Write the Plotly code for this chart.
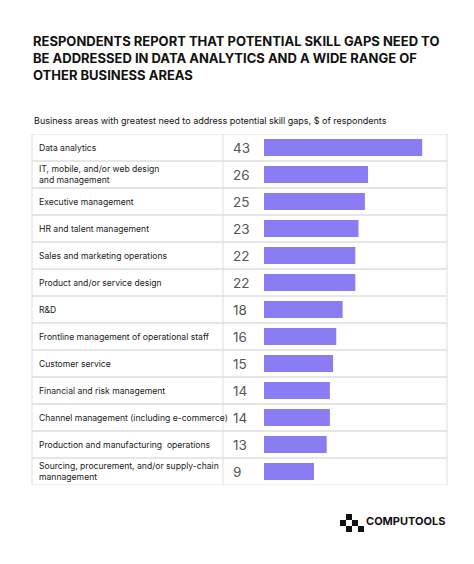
import plotly.graph_objects as go

# Business areas and share of respondents (%)
areas = [
    "Data analytics",
    "IT, mobile, and/or web design<br>and management",
    "Executive management",
    "HR and talent management",
    "Sales and marketing operations",
    "Product and/or service design",
    "R&D",
    "Frontline management of operational staff",
    "Customer service",
    "Financial and risk management",
    "Channel management (including e-commerce)",
    "Production and manufacturing  operations",
    "Sourcing, procurement, and/or supply-chain<br>mannagement",
]
values = [43, 26, 25, 23, 22, 22, 18, 16, 15, 14, 14, 13, 9]

# page has an 8px body margin, so work in window pixels and shift
OFF = 8
W, H = 474 - 2 * OFF, 564 - 2 * OFF
px = lambda x: (x - OFF) / W
py = lambda y: 1 - (y - OFF) / H

# bars in the source start a little before zero (a fixed stub)
LEAD = 6.7

fig = go.Figure()

fig.add_trace(go.Bar(
    x=[v + LEAD for v in values], y=list(range(len(values))), base=-LEAD, orientation="h",
    width=0.63, marker=dict(color="#8a7cf3", line_width=0), hoverinfo="skip",
))

shapes = []
# table outline and rows
shapes.append(dict(type="rect", xref="paper", yref="y", x0=px(32), x1=px(447),
                   y0=-0.5, y1=len(values) - 0.5, line=dict(color="#dedede", width=1)))
for i in range(len(values) - 1):
    shapes.append(dict(type="line", xref="paper", yref="y", x0=px(32), x1=px(447),
                       y0=i + 0.5, y1=i + 0.5, line=dict(color="#dedede", width=1.5)))
shapes.append(dict(type="line", xref="paper", yref="y", x0=px(223), x1=px(223),
                   y0=-0.5, y1=len(values) - 0.5, line=dict(color="#dedede", width=1)))

annotations = []
for i, (a, v) in enumerate(zip(areas, values)):
    annotations.append(dict(x=px(37), y=i, xref="paper", yref="y", text=a, showarrow=False,
                            xanchor="left", align="left",
                            font=dict(size=8.6, color="#1a1a1a", family="Inter")))
    annotations.append(dict(x=px(231), y=i, xref="paper", yref="y", text=str(v), showarrow=False,
                            xanchor="left", font=dict(size=13.5, color="#555555", family="Inter")))

annotations.append(dict(
    x=px(31), y=py(31), xref="paper", yref="paper", xanchor="left", yanchor="top", align="left",
    showarrow=False,
    text="<b>RESPONDENTS REPORT THAT POTENTIAL SKILL GAPS NEED TO<br>"
         "BE ADDRESSED IN DATA ANALYTICS AND A WIDE RANGE OF<br>OTHER BUSINESS AREAS</b>",
    font=dict(size=13, color="#111111", family="Inter")))
annotations.append(dict(
    x=px(32), y=py(113), xref="paper", yref="paper", xanchor="left", showarrow=False,
    text="Business areas with greatest need to address potential skill gaps, $ of respondents",
    font=dict(size=9, color="#111111", family="Inter")))
annotations.append(dict(
    x=px(447), y=py(530), xref="paper", yref="paper", xanchor="right", showarrow=False,
    text="<b>COMPUTOOLS</b>", font=dict(size=11, color="#111111", family="Inter")))

# logo glyph
for (x0, y0) in [(346, 514), (340, 520), (352, 520), (346, 526), (358, 526)]:
    shapes.append(dict(type="rect", xref="paper", yref="paper", x0=px(x0), x1=px(x0 + 6),
                       y0=py(y0 + 6), y1=py(y0), fillcolor="#111111", line_width=0))

fig.update_layout(
    width=W, height=H, margin=dict(l=0, r=0, t=0, b=0),
    paper_bgcolor="white", plot_bgcolor="white", showlegend=False,
    shapes=shapes, annotations=annotations,
    xaxis=dict(domain=[px(264), px(447)], range=[-LEAD, 50.8], visible=False, fixedrange=True),
    yaxis=dict(domain=[py(485), py(134)], range=[len(values) - 0.5, -0.5], visible=False,
               fixedrange=True),
)

fig.write_html("out.html")
